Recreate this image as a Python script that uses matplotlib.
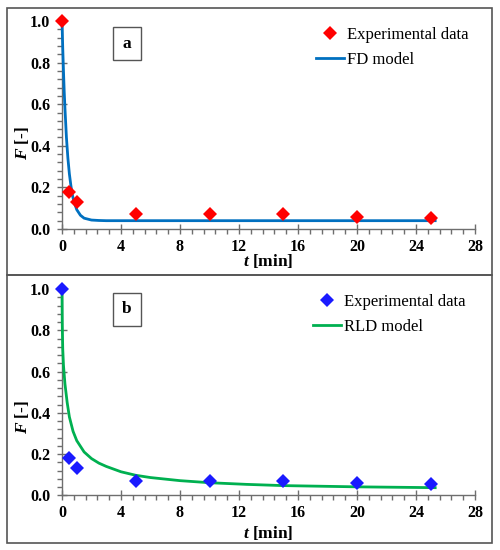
#!/usr/bin/env python3
import matplotlib
matplotlib.use("Agg")
import matplotlib.pyplot as plt
from matplotlib.patches import Rectangle
from matplotlib.ticker import MultipleLocator, FormatStrFormatter

# experimental points (same in both panels)
t_exp = [0, 0.5, 1, 5, 10, 15, 20, 25]
F_exp = [1.0, 0.18, 0.13, 0.07, 0.07, 0.07, 0.06, 0.055]

# FD model curve
t_fd = [0, 0.05, 0.1, 0.15, 0.2, 0.25, 0.3, 0.4, 0.5, 0.6, 0.7, 0.8, 1.0,
        1.25, 1.5, 2.0, 2.5, 3.0, 4.0, 6.0, 10.0, 15.0, 20.0, 25.3]
F_fd = [1.0, 0.87, 0.76, 0.66, 0.58, 0.51, 0.44, 0.34, 0.265, 0.21, 0.165,
        0.134, 0.093, 0.066, 0.052, 0.043, 0.041, 0.04, 0.04, 0.04, 0.04,
        0.04, 0.04, 0.04]

# RLD model curve
t_rld = [0, 0.01, 0.02, 0.05, 0.1, 0.2, 0.35, 0.5, 0.75, 1.0, 1.5, 2.0, 2.5,
         3.0, 4.0, 5.0, 6.0, 8.0, 10.0, 12.5, 15.0, 20.0, 25.3]
F_rld = [1.0, 0.9, 0.82, 0.71, 0.63, 0.54, 0.45, 0.38, 0.31, 0.265, 0.21,
         0.178, 0.156, 0.14, 0.114, 0.097, 0.086, 0.071, 0.061, 0.053, 0.047,
         0.041, 0.037]

FONT = "Liberation Serif"
plt.rcParams["font.family"] = FONT
plt.rcParams["mathtext.fontset"] = "custom"
plt.rcParams["mathtext.bfit"] = f"{FONT}:italic:bold"
plt.rcParams["mathtext.bf"] = f"{FONT}:bold"
plt.rcParams["mathtext.rm"] = FONT

W, H = 500, 550
fig = plt.figure(figsize=(W / 100, H / 100), dpi=100)


def fx(px):
    return px / W


def fy(py):
    return 1 - py / H


panels = [
    dict(top=21, bottom=229, frame=(8, 275), label="a", box_c=(127, 43.5),
         color="#ff0000", line="#0070c0", model="FD model",
         t=t_fd, F=F_fd, ylab=143, xlab=261, leg=(316, 27)),
    dict(top=289, bottom=495.3, frame=(275, 543), label="b", box_c=(127, 309),
         color="#1a1aff", line="#00b050", model="RLD model",
         t=t_rld, F=F_rld, ylab=417, xlab=532.5, leg=(313, 294)),
]

for p in panels:
    # outer frame
    y0, y1 = p["frame"]
    fig.patches.append(Rectangle((fx(7), fy(y1)), fx(492) - fx(7), fy(y0) - fy(y1),
                                 transform=fig.transFigure, fill=False,
                                 edgecolor="#555555", linewidth=1.2))

    ax = fig.add_axes([fx(62), fy(p["bottom"]), fx(475) - fx(62),
                       fy(p["top"]) - fy(p["bottom"])])
    ax.plot(p["t"], p["F"], color=p["line"], linewidth=2.0, label=p["model"],
            zorder=3, clip_on=False)
    ax.plot(t_exp, F_exp, linestyle="none", marker="D", markersize=7,
            color=p["color"], markeredgewidth=0, label="Experimental data",
            zorder=4, clip_on=False)

    ax.set_xlim(0, 28)
    ax.set_ylim(0, 1.0)
    ax.xaxis.set_major_locator(MultipleLocator(4))
    ax.xaxis.set_minor_locator(MultipleLocator(0.8))
    ax.yaxis.set_major_locator(MultipleLocator(0.2))
    ax.yaxis.set_minor_locator(MultipleLocator(0.04))
    ax.yaxis.set_major_formatter(FormatStrFormatter("%.1f"))
    for s in ("top", "right"):
        ax.spines[s].set_visible(False)
    for s in ("left", "bottom"):
        ax.spines[s].set_color("#6e6e6e")
        ax.spines[s].set_linewidth(1.0)
    ax.tick_params(which="major", direction="inout", length=7, width=1.0,
                   color="#6e6e6e", labelsize=11.5, pad=5)
    ax.tick_params(axis="x", which="major", pad=3.5)
    ax.tick_params(which="minor", direction="out", length=3.5, width=1.0,
                   color="#6e6e6e")
    for lab in ax.get_xticklabels() + ax.get_yticklabels():
        lab.set_fontweight("bold")

    # legend (marker row first, then line)
    h, l = ax.get_legend_handles_labels()
    fig.legend(h[::-1], l[::-1], loc="upper left",
               bbox_to_anchor=(fx(p["leg"][0]), fy(p["leg"][1])),
               frameon=False, fontsize=12, handlelength=1.7,
               handletextpad=0.15, labelspacing=0.55, borderpad=0,
               borderaxespad=0)

    # panel letter box
    cx, cy = p["box_c"]
    fig.patches.append(Rectangle((fx(cx - 14), fy(cy + 16.5)), fx(28), 33 / H,
                                 transform=fig.transFigure, fill=False,
                                 edgecolor="#555555", linewidth=1.0))
    fig.text(fx(cx), fy(cy), p["label"], ha="center", va="center",
             fontsize=12.5, fontweight="bold")

    fig.text(fx(22), fy(p["ylab"]), r"$\mathbfit{F}$ [-]", rotation=90,
             ha="center", va="center", fontsize=12.5, fontweight="bold")
    fig.text(fx(268), fy(p["xlab"]), r"$\mathbfit{t}$ [min]",
             ha="center", va="center", fontsize=12.5, fontweight="bold")

fig.savefig("out.png", dpi=100)
